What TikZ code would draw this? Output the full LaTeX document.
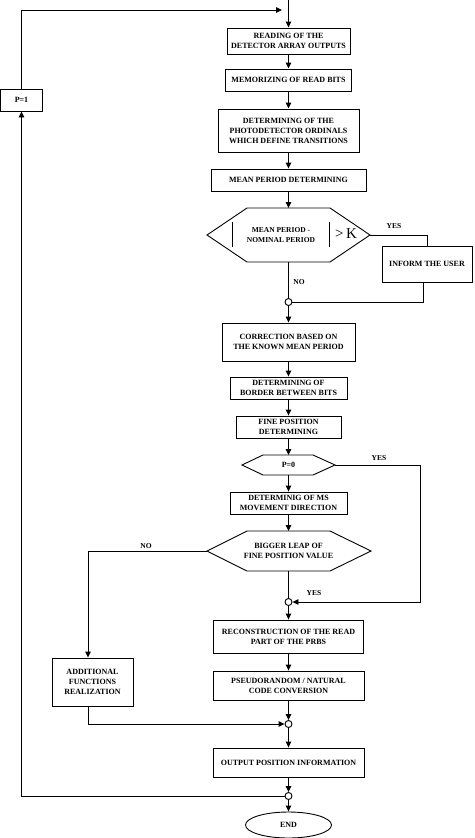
\documentclass[tikz,border=0pt]{standalone}
\usepackage{fontspec}
\setmainfont{Liberation Serif}
\usetikzlibrary{shapes.geometric,arrows.meta,calc}
\begin{document}
\begin{tikzpicture}[x=1pt,y=-1pt,line width=0.9pt,
  every node/.style={font=\bfseries\fontsize{8}{10}\selectfont},
  box/.style={draw,rectangle,align=center,inner sep=0pt},
  lbl/.style={font=\bfseries\fontsize{7.5}{9}\selectfont},
  junc/.style={draw,circle,fill=white,minimum size=7pt,inner sep=0pt},
  arr/.style={-{Triangle[length=6pt,width=5.5pt]}}]
\useasboundingbox (0,0) rectangle (474,838);

% boxes
\node[box,minimum width=123pt,minimum height=26pt] (b1) at (288.5,41) {READING OF THE\\DETECTOR ARRAY OUTPUTS};
\node[box,minimum width=126pt,minimum height=22pt] (b2) at (288.5,80) {MEMORIZING OF READ BITS};
\node[box,minimum width=141pt,minimum height=43pt] (b3) at (288.5,130.5) {DETERMINING OF THE\\PHOTODETECTOR ORDINALS\\WHICH DEFINE TRANSITIONS};
\node[box,minimum width=155pt,minimum height=22pt] (b4) at (288.5,180) {MEAN PERIOD DETERMINING};
\node[box,minimum width=90pt,minimum height=36pt] (inf) at (427,264) {INFORM THE USER};
\node[box,minimum width=133pt,minimum height=38pt] (b5) at (288.5,342) {CORRECTION BASED ON\\THE KNOWN MEAN PERIOD};
\node[box,minimum width=117pt,minimum height=22pt] (b6) at (288.5,388) {DETERMINING OF\\BORDER BETWEEN BITS};
\node[box,minimum width=105pt,minimum height=22pt] (b7) at (288.5,427) {FINE POSITION\\DETERMINING};
\node[box,minimum width=117pt,minimum height=22pt] (b8) at (288.5,503) {DETERMINIG OF MS\\MOVEMENT DIRECTION};
\node[box,minimum width=150pt,minimum height=33pt] (b9) at (288.5,636.5) {RECONSTRUCTION OF THE READ\\PART OF THE PRBS};
\node[box,minimum width=151pt,minimum height=29pt] (b10) at (288.5,685.5) {PSEUDORANDOM / NATURAL\\CODE CONVERSION};
\node[box,minimum width=81pt,minimum height=48pt] (add) at (92.5,682) {ADDITIONAL\\FUNCTIONS\\REALIZATION};
\node[box,minimum width=151pt,minimum height=29pt] (b11) at (288.5,762.5) {OUTPUT POSITION INFORMATION};
\node[box,minimum width=42pt,minimum height=22pt] (p1) at (21.5,100) {P=1};
\node[draw,ellipse,minimum width=86pt,minimum height=26pt,inner sep=0pt] (end) at (288.5,825) {END};

% hexagon 1
\coordinate (h1l) at (207,235); \coordinate (h1a) at (247,208); \coordinate (h1b) at (330,208);
\coordinate (h1r) at (370,235); \coordinate (h1c) at (330,262); \coordinate (h1d) at (247,262);
\coordinate (h1n) at (288.5,208); \coordinate (h1s) at (288.5,262);
\draw (h1l)--(h1a)--(h1b)--(h1r)--(h1c)--(h1d)--cycle;
\node[align=center,font=\bfseries\fontsize{7.5}{10.5}\selectfont] (h1t) at (281,235) {MEAN PERIOD -\\NOMINAL PERIOD};
\coordinate (bar1a) at (232,222); \coordinate (bar1b) at (232,247);
\coordinate (bar2a) at (329,222); \coordinate (bar2b) at (329,247);
\draw (bar1a) -- (bar1b); \draw (bar2a) -- (bar2b);
\node[font=\mdseries\fontsize{15}{15}\selectfont] (h1k) at (346,234) {>\,K};

% hexagon 2
\coordinate (h2l) at (242,465); \coordinate (h2a) at (263,455); \coordinate (h2b) at (313,455);
\coordinate (h2r) at (335,465); \coordinate (h2c) at (313,475); \coordinate (h2d) at (263,475);
\coordinate (h2n) at (288.5,455); \coordinate (h2s) at (288.5,475);
\draw (h2l)--(h2a)--(h2b)--(h2r)--(h2c)--(h2d)--cycle;
\node (h2t) at (288.5,465) {P=0};

% hexagon 3
\coordinate (h3l) at (207,551); \coordinate (h3a) at (247,531); \coordinate (h3b) at (330,531);
\coordinate (h3r) at (371,551); \coordinate (h3c) at (330,571); \coordinate (h3d) at (247,571);
\coordinate (h3n) at (288.5,531); \coordinate (h3s) at (288.5,571);
\draw (h3l)--(h3a)--(h3b)--(h3r)--(h3c)--(h3d)--cycle;
\node[align=center] (h3t) at (288.5,551) {BIGGER LEAP OF\\FINE POSITION VALUE};

% junctions
\node[junc] (c1) at (288.5,302) {};
\node[junc] (c2) at (288.5,602) {};
\node[junc] (c3) at (288.5,724) {};
\node[junc] (c4) at (288.5,796) {};

% other coordinates
\coordinate (top) at (288.5,0);
\coordinate (lp) at (282,10);
\coordinate (rc) at (420,602);

% connectors
\draw[arr] (top) -- (b1.north);
\draw[arr] (p1.north) |- (lp);
\draw[arr] (b1.south) -- (b2.north);
\draw[arr] (b2.south) -- (b3.north);
\draw[arr] (b3.south) -- (b4.north);
\draw[arr] (b4.south) -- (h1n);
\draw (h1r) -| (inf.north);
\draw ([xshift=-4pt]inf.south) |- (c1.east);
\draw (h1s) -- (c1.north);
\draw[arr] (c1.south) -- (b5.north);
\draw[arr] (b5.south) -- (b6.north);
\draw[arr] (b6.south) -- (b7.north);
\draw[arr] (b7.south) -- (h2n);
\draw[arr] (h2s) -- (b8.north);
\draw[arr] (h2r) -| (rc) -- (c2.east);
\draw[arr] (b8.south) -- (h3n);
\draw[arr] (h3l) -| ([xshift=-4.5pt]add.north);
\draw (h3s) -- (c2.north);
\draw[arr] (c2.south) -- (b9.north);
\draw[arr] (b9.south) -- (b10.north);
\draw[arr] (b10.south) -- (c3.north);
\draw[arr] ([xshift=-4.5pt]add.south) |- (c3.west);
\draw[arr] (c3.south) -- (b11.north);
\draw[arr] (b11.south) -- (c4.north);
\draw[arr] (c4.south) -- (end.north);
\draw[arr] (c4.west) -| (p1.south);

% labels
\node[lbl] (y1) at (394,226) {YES};
\node[lbl] (n1) at (299,282) {NO};
\node[lbl] (y2) at (379,458) {YES};
\node[lbl] (n2) at (146,546) {NO};
\node[lbl] (y3) at (314,593) {YES};
\end{tikzpicture}
\end{document}
